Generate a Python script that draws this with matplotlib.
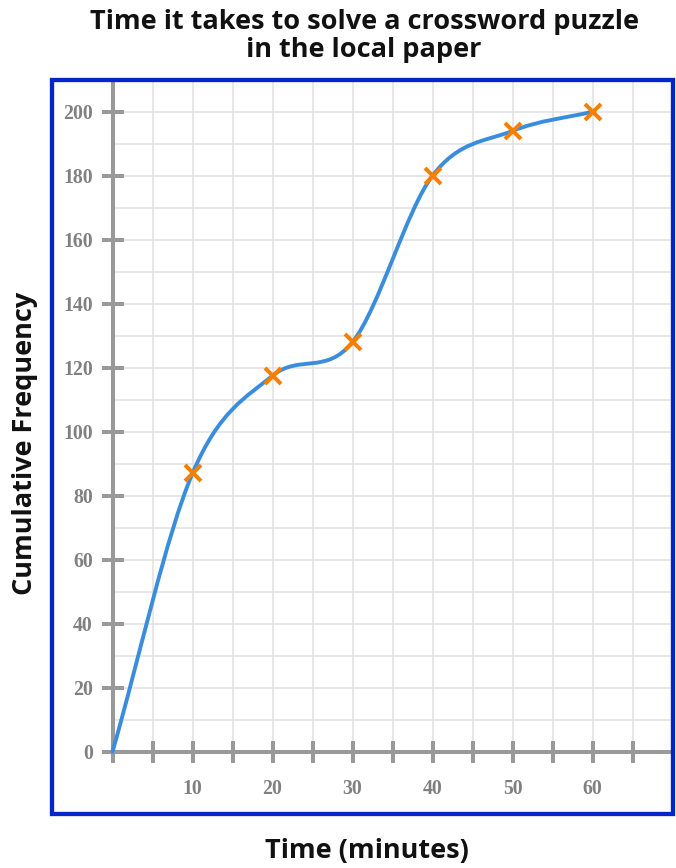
import matplotlib.pyplot as plt
from matplotlib.path import Path
from matplotlib.patches import PathPatch, Rectangle
from matplotlib.ticker import MultipleLocator

# data
time_min = [0, 10, 20, 30, 40, 50, 60]
cum_freq = [0, 87, 117.5, 128, 180, 194, 200]

x_ticks = [0, 5, 10, 15, 20, 25, 30, 35, 40, 45, 50, 55, 60, 65]
x_labels = ['', '', '10', '', '20', '', '30', '', '40', '', '50', '', '60', '']
y_ticks = [0, 20, 40, 60, 80, 100, 120, 140, 160, 180, 200]

title_lines = ['Time it takes to solve a crossword puzzle', 'in the local paper']
x_title = 'Time (minutes)'
y_title = 'Cumulative Frequency'

W, H = 676, 868
AXIS_GREY = '#999999'
LABEL_GREY = '#808080'

fig = plt.figure(figsize=(W / 100, H / 100), dpi=100)

# axes placed in pixel terms: 8 px per minute, 3.2 px per unit of frequency
left_px, right_px = 112.5, 670.5
bottom_px, top_px = 751.7, 81.5
ax = fig.add_axes([left_px / W, 1 - bottom_px / H,
                   (right_px - left_px) / W, (bottom_px - top_px) / H])
ax.set_xlim(0, (right_px - left_px) / 8)
ax.set_ylim(0, (bottom_px - top_px) / 3.2)

# grid: every 5 minutes and every 10 in frequency
ax.yaxis.set_minor_locator(MultipleLocator(10))
ax.grid(axis='x', which='major', color='#e0e0e0', linewidth=1.1, zorder=0)
ax.grid(axis='y', which='both', color='#e0e0e0', linewidth=1.1, zorder=0)
ax.set_axisbelow(True)

ax.set_xticks(x_ticks)
ax.set_xticklabels(x_labels)
ax.set_yticks(y_ticks)
ax.tick_params(which='minor', length=0)
ax.tick_params(which='major', direction='inout', length=16.5, width=2.9,
               color=AXIS_GREY, labelcolor=LABEL_GREY)
ax.tick_params(axis='x', pad=11.5)
ax.tick_params(axis='y', pad=5.8)
for lab in ax.get_xticklabels() + ax.get_yticklabels():
    lab.set_fontfamily('Liberation Serif')
    lab.set_fontweight('bold')
    lab.set_fontsize(14.2)

for side in ['top', 'right']:
    ax.spines[side].set_visible(False)
for side in ['left', 'bottom']:
    ax.spines[side].set_color(AXIS_GREY)
    ax.spines[side].set_linewidth(2.9)
    ax.spines[side].set_zorder(3)

# smooth curve through the points: Catmull-Rom turned into cubic Bezier segments
pts = list(zip(time_min, cum_freq))
ext = [(2 * pts[0][0] - pts[1][0], 2 * pts[0][1] - pts[1][1])] + pts + \
      [(2 * pts[-1][0] - pts[-2][0], 2 * pts[-1][1] - pts[-2][1])]
verts = [pts[0]]
codes = [Path.MOVETO]
for i in range(1, len(ext) - 2):
    p0, p1, p2, p3 = ext[i - 1], ext[i], ext[i + 1], ext[i + 2]
    c1 = (p1[0] + (p2[0] - p0[0]) / 6, p1[1] + (p2[1] - p0[1]) / 6)
    c2 = (p2[0] - (p3[0] - p1[0]) / 6, p2[1] - (p3[1] - p1[1]) / 6)
    verts += [c1, c2, p2]
    codes += [Path.CURVE4] * 3
curve = PathPatch(Path(verts, codes), facecolor='none', edgecolor='#3a8ddd',
                  linewidth=2.8, capstyle='round', zorder=4, clip_on=False)
ax.add_patch(curve)

ax.plot(time_min[1:], cum_freq[1:], linestyle='none', marker='x',
        markersize=12, markeredgewidth=2.9, color='#f58000', zorder=5)

# blue frame
frame = Rectangle((52 / W, 1 - 814 / H), (672.7 - 52) / W, (814 - 79.5) / H,
                  transform=fig.transFigure, fill=False, edgecolor='#0026cc',
                  linewidth=3.1, zorder=10)
fig.patches.append(frame)

txt = dict(family='Open Sans', weight='bold', color='#111111')
fig.text(364 / W, 1 - 29.3 / H, title_lines[0], ha='center', va='baseline', fontsize=19.5, **txt)
fig.text(364 / W, 1 - 56.7 / H, title_lines[1], ha='center', va='baseline', fontsize=19.5, **txt)
fig.text(366.5 / W, 1 - 858.3 / H, x_title, ha='center', va='baseline', fontsize=19.5, **txt)
fig.text(32 / W, 1 - 443 / H, y_title, rotation=90, rotation_mode='anchor',
         ha='center', va='baseline', fontsize=19.5, **txt)

fig.savefig('out.png', dpi=100)
